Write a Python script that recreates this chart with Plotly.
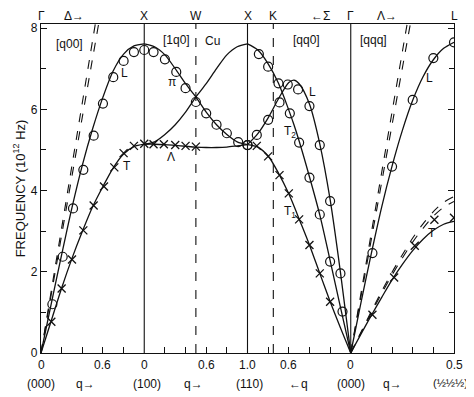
import plotly.graph_objects as go

# ---- x positions: Gamma=0, X=1, W=1.5, X'=2, K=2.25, Gamma=3, L=4 ----
# Segment 1: Gamma -> X  [q00]
s1_x = [0.0, 0.1, 0.2, 0.3, 0.4, 0.5, 0.6, 0.7, 0.8, 0.9, 1.0]
s1_L_curve = [0.0, 1.22, 2.42, 3.58, 4.62, 5.52, 6.3, 6.95, 7.36, 7.56, 7.61]
s1_T_curve = [0.0, 0.8, 1.6, 2.33, 2.99, 3.6, 4.1, 4.56, 4.9, 5.08, 5.14]
s1_L_obs_x = [0.11, 0.21, 0.31, 0.41, 0.51, 0.6, 0.7, 0.8, 0.9, 1.0]
s1_L_obs = [1.2, 2.37, 3.56, 4.51, 5.35, 6.14, 6.79, 7.19, 7.41, 7.46]
s1_T_obs_x = [0.1, 0.2, 0.3, 0.41, 0.51, 0.61, 0.71, 0.8, 0.9, 1.0]
s1_T_obs = [0.77, 1.59, 2.3, 3.02, 3.63, 4.1, 4.57, 4.92, 5.1, 5.15]
s1_el_x = [0.0, 0.526]
s1_el_a = [0.0, 8.1]
s1_el_x2 = [0.0, 0.558]
s1_el_b = [0.0, 8.1]

# Segment 2: X -> W -> X  [1q0]
s2_x = [1.0, 1.1, 1.2, 1.3, 1.4, 1.5, 1.6, 1.7, 1.8, 1.9, 2.0]
s2_down_curve = [7.61, 7.54, 7.34, 7.0, 6.63, 6.3, 5.93, 5.62, 5.38, 5.2, 5.13]
s2_up_curve = [5.14, 5.2, 5.38, 5.62, 5.93, 6.3, 6.63, 7.0, 7.34, 7.54, 7.61]
s2_flat_curve = [5.14, 5.14, 5.13, 5.11, 5.09, 5.07, 5.06, 5.06, 5.07, 5.1, 5.13]
s2_down_obs_x = [1.09, 1.2, 1.31, 1.4, 1.5, 1.6, 1.7, 1.8, 1.91, 2.0]
s2_down_obs = [7.41, 7.23, 6.92, 6.52, 6.18, 5.9, 5.62, 5.41, 5.19, 5.12]
s2_flat_obs_x = [1.09, 1.19, 1.3, 1.4, 1.5]
s2_flat_obs = [5.14, 5.14, 5.12, 5.1, 5.08]

# Segment 3: X -> K -> Gamma  [qq0]
s3_x = [2.0, 2.1, 2.2, 2.3, 2.4, 2.45, 2.5, 2.6, 2.7, 2.8, 2.9, 3.0]
s3_T2_curve = [7.61, 7.46, 7.12, 6.64, 5.98, 5.62, 5.22, 4.34, 3.4, 2.28, 1.13, 0.0]
s3_L_curve = [5.13, 5.4, 5.79, 6.26, 6.66, 6.72, 6.63, 6.13, 5.15, 3.78, 1.99, 0.0]
s3_T1_curve = [5.13, 5.07, 4.85, 4.43, 3.92, 3.62, 3.3, 2.66, 1.96, 1.27, 0.62, 0.0]
s3_T2_obs_x = [2.11, 2.2, 2.3, 2.41, 2.5, 2.6, 2.7, 2.8, 2.92]
s3_T2_obs = [7.36, 7.05, 6.64, 5.9, 5.18, 4.32, 3.41, 2.25, 1.02]
s3_L_obs_x = [2.0, 2.09, 2.2, 2.31, 2.39, 2.49, 2.6, 2.7, 2.8, 2.9]
s3_L_obs = [5.12, 5.37, 5.74, 6.17, 6.61, 6.49, 6.08, 5.12, 3.74, 1.96]
s3_T1_obs_x = [2.09, 2.2, 2.31, 2.4, 2.5, 2.6, 2.7, 2.8]
s3_T1_obs = [5.1, 4.84, 4.38, 3.93, 3.29, 2.66, 1.96, 1.26]

# Segment 4: Gamma -> L  [qqq]
s4_x = [3.0, 3.1, 3.2, 3.3, 3.4, 3.5, 3.6, 3.7, 3.8, 3.9, 4.0]
s4_L_curve = [0.0, 1.25, 2.46, 3.6, 4.6, 5.48, 6.22, 6.8, 7.22, 7.5, 7.65]
s4_T_curve = [0.0, 0.47, 0.93, 1.37, 1.8, 2.18, 2.52, 2.8, 3.02, 3.17, 3.24]
s4_Tel_a = [0.0, 0.52, 1.03, 1.52, 1.99, 2.42, 2.83, 3.18, 3.48, 3.71, 3.85]
s4_Tel_b = [0.0, 0.5, 0.99, 1.47, 1.92, 2.34, 2.73, 3.07, 3.37, 3.59, 3.73]
s4_L_obs_x = [3.21, 3.4, 3.6, 3.8, 4.0]
s4_L_obs = [2.46, 4.59, 6.23, 7.26, 7.65]
s4_T_obs_x = [3.21, 3.42, 3.62, 3.81, 4.0]
s4_T_obs = [0.94, 1.86, 2.64, 3.28, 3.33]
s4_el_x = [3.0, 3.546]
s4_el_a = [0.0, 8.1]
s4_el_x2 = [3.0, 3.577]
s4_el_b = [0.0, 8.1]

# symmetry lines
sym_solid = [1.0, 2.0, 3.0]
sym_dash = [1.5, 2.25]

top_labels = ["Γ", "Δ→", "X", "W", "X", "K", "←Σ", "Γ", "Λ→", "L"]
top_pos = [0.0, 0.32, 1.0, 1.5, 2.0, 2.25, 2.71, 3.0, 3.35, 4.0]
bot1_labels = ["0", "0.6", "0", "0.6", "1.0", "0.6", "0", "0.5"]
bot1_pos = [0.0, 0.6, 1.0, 1.6, 2.0, 2.4, 3.0, 4.0]
bot2_labels = ["(000)", "q→", "(100)", "q→", "(110)", "←q", "(000)", "q→", "(½½½)"]
bot2_pos = [0.0, 0.43, 1.03, 1.48, 2.02, 2.49, 3.0, 3.4, 4.0]
y_ticks = [0, 2, 4, 6, 8]

in_labels = ["[q00]", "[1q0]", "Cu", "[qq0]", "[qqq]", "L", "T", "π", "Λ", "L",
             "T<sub>2</sub>", "T<sub>1</sub>", "L", "T"]
in_x = [0.28, 1.31, 1.66, 2.57, 3.22, 0.81, 0.83, 1.27, 1.26, 2.63, 2.41, 2.41, 3.76, 3.79]
in_y = [7.6, 7.7, 7.68, 7.7, 7.7, 6.9, 4.6, 6.67, 4.83, 6.43, 5.44, 3.47, 6.77, 2.96]

BLACK = "#111111"
fig = go.Figure()

def curve(x, y, dash="solid", w=1.3):
    fig.add_trace(go.Scatter(x=x, y=y, mode="lines", line=dict(color=BLACK, width=w, dash=dash, shape="spline", smoothing=0.8),
                             hoverinfo="skip", showlegend=False))

def circles(x, y):
    fig.add_trace(go.Scatter(x=x, y=y, mode="markers",
                             marker=dict(symbol="circle-open", size=9, color=BLACK, line=dict(width=1.2, color=BLACK)),
                             showlegend=False))

def crosses(x, y):
    fig.add_trace(go.Scatter(x=x, y=y, mode="markers",
                             marker=dict(symbol="x-thin-open", size=8, color=BLACK, line=dict(width=1.3, color=BLACK)),
                             showlegend=False))

# elastic limit lines
curve(s1_el_x, s1_el_a, dash="dash", w=1.1)
curve(s1_el_x2, s1_el_b, dash="dash", w=1.1)
curve(s4_el_x, s4_el_a, dash="dash", w=1.1)
curve(s4_el_x2, s4_el_b, dash="dash", w=1.1)
curve(s4_x, s4_Tel_a, dash="dash", w=1.1)
curve(s4_x, s4_Tel_b, dash="dash", w=1.1)

curve(s1_x, s1_L_curve)
curve(s1_x, s1_T_curve)
curve(s2_x, s2_down_curve)
curve(s2_x, s2_up_curve)
curve(s2_x, s2_flat_curve)
curve(s3_x, s3_T2_curve)
curve(s3_x, s3_L_curve)
curve(s3_x, s3_T1_curve)
curve(s4_x, s4_L_curve)
curve(s4_x, s4_T_curve)

circles(s1_L_obs_x, s1_L_obs)
crosses(s1_T_obs_x, s1_T_obs)
circles(s2_down_obs_x, s2_down_obs)
crosses(s2_flat_obs_x, s2_flat_obs)
circles(s3_T2_obs_x, s3_T2_obs)
circles(s3_L_obs_x, s3_L_obs)
crosses(s3_T1_obs_x, s3_T1_obs)
circles(s4_L_obs_x, s4_L_obs)
crosses(s4_T_obs_x, s4_T_obs)

shapes = []
for xv in sym_solid:
    shapes.append(dict(type="line", xref="x", yref="paper", x0=xv, x1=xv, y0=0, y1=1,
                       line=dict(color=BLACK, width=1.1)))
for xv in sym_dash:
    shapes.append(dict(type="line", xref="x", yref="paper", x0=xv, x1=xv, y0=0, y1=1,
                       line=dict(color=BLACK, width=1.1, dash="dash")))

ann = []
FONT = "Liberation Sans, Arial, sans-serif"
for t, p in zip(top_labels, top_pos):
    ann.append(dict(x=p, y=1, xref="x", yref="paper", text=t, showarrow=False,
                    yanchor="bottom", yshift=-1, font=dict(size=12, color=BLACK, family=FONT)))
for t, p in zip(bot1_labels, bot1_pos):
    ann.append(dict(x=p, y=0, xref="x", yref="paper", text=t, showarrow=False,
                    yanchor="top", yshift=-3, font=dict(size=12, color=BLACK, family=FONT)))
for t, p in zip(bot2_labels, bot2_pos):
    last = (t == bot2_labels[-1])
    ann.append(dict(x=p, y=0, xref="x", yref="paper", text=t, showarrow=False,
                    yanchor="top", yshift=-22, xshift=-4 if last else 0,
                    font=dict(size=11 if last else 12, color=BLACK, family=FONT)))
for t, xx, yy in zip(in_labels, in_x, in_y):
    ann.append(dict(x=xx, y=yy, xref="x", yref="y", text=t, showarrow=False,
                    font=dict(size=12, color=BLACK, family=FONT)))

# page body has an 8px margin, so the figure is sized/offset to fit the 474x397 window
fig.update_layout(
    width=466, height=389,
    margin=dict(l=27, r=20, t=16, b=44),
    paper_bgcolor="white", plot_bgcolor="white",
    shapes=shapes, annotations=ann, showlegend=False,
    font=dict(family=FONT, color=BLACK, size=12),
    xaxis=dict(range=[0, 4], tickvals=[0.2, 0.4, 0.6, 0.8, 1.2, 1.4, 1.6, 1.8, 2.2, 2.4, 2.6, 2.8, 3.2, 3.4, 3.6, 3.8],
               ticks="inside", ticklen=6, tickcolor=BLACK, showticklabels=False,
               showgrid=False, zeroline=False, showline=True, linecolor=BLACK, linewidth=1.2, mirror=True),
    yaxis=dict(range=[0, 8.1], tickvals=y_ticks,
               ticks="inside", ticklen=6, tickcolor=BLACK, showgrid=False, zeroline=False,
               minor=dict(dtick=1, ticks="inside", ticklen=5, tickcolor=BLACK),
               showline=True, linecolor=BLACK, linewidth=1.2, mirror="ticks",
               tickfont=dict(size=12), title=dict(text="FREQUENCY (10<sup>12</sup> Hz)", standoff=2,
                                                 font=dict(size=13))),
)

fig.write_html("out.html")
